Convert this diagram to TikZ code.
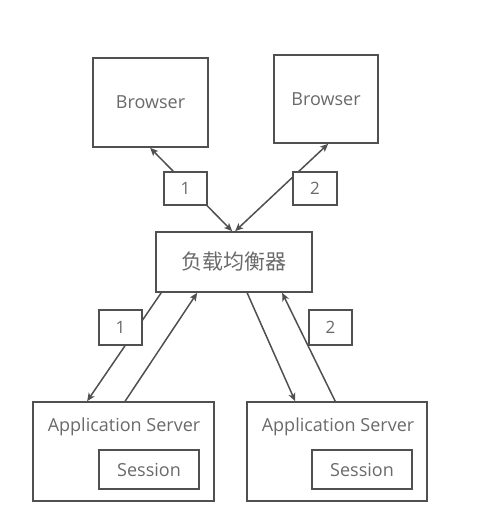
\documentclass[tikz,border=0pt]{standalone}
\usepackage{fontspec}
\setmainfont{Open Sans}
\newfontfamily\cjk{Noto Sans CJK SC}
\usetikzlibrary{arrows.meta}
\definecolor{ln}{HTML}{505050}
\definecolor{tx}{HTML}{6A6A6A}
\begin{document}
\begin{tikzpicture}[x=1pt,y=-1pt,
  box/.style={draw=ln,line width=1.7pt,fill=white,inner sep=0pt,text=tx,font=\fontsize{18}{21}\selectfont},
  lbl/.style={box,font=\fontsize{17}{20}\selectfont},
  conn/.style={draw=ln,line width=1.5pt},
  tip/.style={-{Stealth[length=8pt,width=7pt,inset=2pt]}},
  tips/.style={{Stealth[length=8pt,width=7pt,inset=2pt]}-{Stealth[length=8pt,width=7pt,inset=2pt]}}]
\useasboundingbox[fill=white] (0,0) rectangle (478,530);
% boxes
\node[box,minimum width=115pt,minimum height=89pt] (b1) at (150.5,102.5) {Browser};
\node[box,minimum width=104pt,minimum height=88pt] (b2) at (326,99) {Browser};
\node[box,minimum width=156pt,minimum height=60pt,font=\cjk\fontsize{21}{25}\selectfont] (lb) at (234,262) {负载均衡器};
\node[box,minimum width=181pt,minimum height=99pt] (as1) at (123.5,451.5) {};
\node[text=tx,font=\fontsize{18}{21}\selectfont,inner sep=0pt] (t1) at (124,427) {Application Server};
\node[box,minimum width=100pt,minimum height=39pt] (s1) at (149,469.5) {Session};
\node[box,minimum width=180pt,minimum height=99pt] (as2) at (337,451.5) {};
\node[text=tx,font=\fontsize{18}{21}\selectfont,inner sep=0pt] (t2) at (338,427) {Application Server};
\node[box,minimum width=100pt,minimum height=39pt] (s2) at (362,469.5) {Session};
% connectors
\draw[conn,tips] ([xshift=77pt]lb.north west) -- ([xshift=58pt]b1.south west);
\draw[conn,tips] ([xshift=80pt]lb.north west) -- ([xshift=55pt]b2.south west);
\draw[conn,tip] ([xshift=6pt]lb.south west) -- ([xshift=55pt]as1.north west);
\draw[conn,tip] ([xshift=93pt]as1.north west) -- ([xshift=42pt]lb.south west);
\draw[conn,tip] ([xshift=92pt]lb.south west) -- ([xshift=49pt]as2.north west);
\draw[conn,tip] ([xshift=89pt]as2.north west) -- ([xshift=127pt]lb.south west);
% labels
\node[lbl,minimum width=43pt,minimum height=33pt] (l1) at (185.5,188.5) {1};
\node[lbl,minimum width=44pt,minimum height=33pt] (l2) at (315,188.5) {2};
\node[lbl,minimum width=43pt,minimum height=35pt] (l3) at (120.5,327.5) {1};
\node[lbl,minimum width=43pt,minimum height=35pt] (l4) at (330.5,327.5) {2};
\end{tikzpicture}
\end{document}
